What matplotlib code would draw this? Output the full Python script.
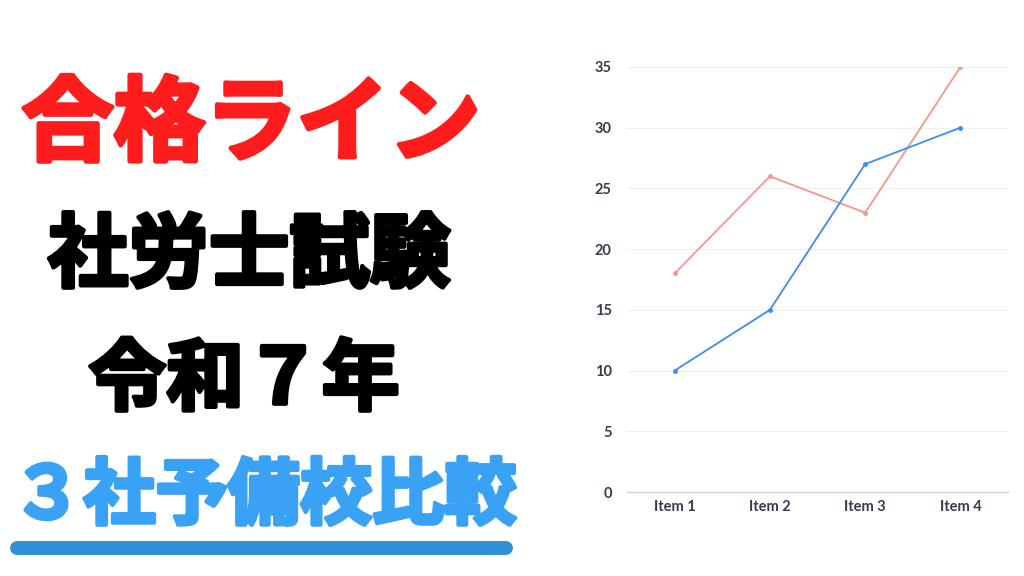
import matplotlib
matplotlib.use('Agg')
import matplotlib.pyplot as plt
import matplotlib.patheffects as pe
from matplotlib.lines import Line2D

# chart data
items  = ['Item 1', 'Item 2', 'Item 3', 'Item 4']
red_s  = [18, 26, 23, 35]
blue_s = [10, 15, 27, 30]
yticks = [0, 5, 10, 15, 20, 25, 30, 35]

# title lines on the left
title_lines = ['合格ライン', '社労士試験', '令和７年', '３社予備校比較']

RED    = '#ff1c1c'
BLACK  = '#000000'
BLUE   = '#3aa2f4'
ULINE  = '#2e90d6'
LRED   = '#f7968d'
LBLUE  = '#3a8ef6'
TICK_C = '#343b4e'

W, H = 1024, 576
fig = plt.figure(figsize=(W / 100, H / 100), dpi=100)
fig.patch.set_facecolor('white')

jp = ['Noto Sans CJK JP', 'DejaVu Sans']


def px(x, y):
    return x / W, 1 - y / H


def big_text(x, y, s, size, color, stroke=3):
    fig.text(*px(x, y), s, fontsize=size, color=color, family=jp,
             fontweight='bold', ha='center', va='center',
             path_effects=[pe.withStroke(linewidth=stroke, foreground=color,
                                         capstyle='round', joinstyle='round')])


big_text(251, 126, title_lines[0], 66, RED, 3.5)
big_text(249, 257, title_lines[1], 58, BLACK, 3)
big_text(244, 381, title_lines[2], 56, BLACK, 3)
big_text(264, 497, title_lines[3], 52, BLUE, 3)

# underline bar
fig.add_artist(Line2D([17 / W, 506 / W], [1 - 548 / H, 1 - 548 / H],
                      transform=fig.transFigure, color=ULINE, lw=10,
                      solid_capstyle='round'))

# line chart
ax = fig.add_axes([627 / W, 1 - 492 / H, (1008 - 627) / W, (492 - 67) / H])
x = list(range(len(items)))
ax.plot(x, red_s, color=LRED, lw=1.3, marker='o', ms=2.5, zorder=3)
ax.plot(x, blue_s, color=LBLUE, lw=1.3, marker='o', ms=2.5, zorder=3)

ax.set_xlim(-0.5, len(items) - 0.5)
ax.set_ylim(0, 35)
ax.set_yticks(yticks)
ax.set_xticks(x)
ax.set_xticklabels(items)
ax.grid(axis='y', color='#eef0f4', lw=0.8)
ax.set_axisbelow(True)
for s in ['top', 'right', 'left']:
    ax.spines[s].set_visible(False)
ax.spines['bottom'].set_color('#cfd3de')
ax.spines['bottom'].set_linewidth(1)
ax.tick_params(axis='both', length=0, labelsize=10.5, colors=TICK_C)
ax.tick_params(axis='y', pad=11)
ax.tick_params(axis='x', pad=6)
for lab in ax.get_xticklabels() + ax.get_yticklabels():
    lab.set_family('Lato')
    lab.set_fontweight('bold')

fig.savefig('out.png', dpi=100)
